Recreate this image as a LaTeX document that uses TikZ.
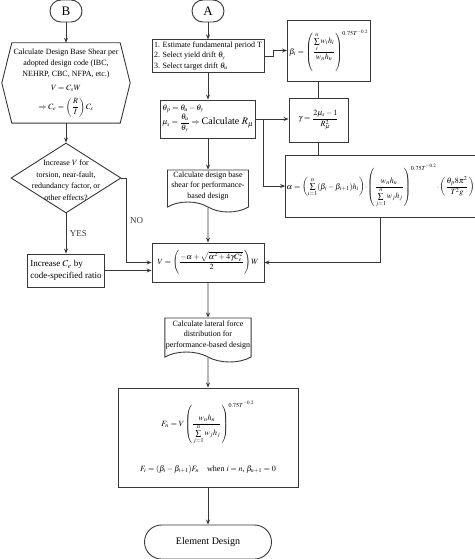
\documentclass[tikz,border=0pt]{standalone}
\usepackage{amsmath}
\usepackage{mathptmx}
\usepackage{fontspec}
\setmainfont{Liberation Serif}
\usetikzlibrary{
    positioning,
    arrows.meta,
    shapes.geometric,
    shapes.symbols
}
\definecolor{LineGray}{RGB}{55,55,55}

\begin{document}
\begin{tikzpicture}[
    x=1pt, y=-1pt,
    font=\fontsize{8}{10.5}\selectfont,
    term/.style={rectangle, rounded corners=11pt, draw=LineGray, line width=0.9pt, minimum width=32pt, minimum height=22pt, inner sep=0pt, font=\fontsize{13}{13}\selectfont},
    box/.style={rectangle, draw=LineGray, line width=0.9pt, align=center, inner sep=2pt},
    doc/.style={tape, draw=LineGray, line width=0.9pt, tape bend top=none, tape bend bottom=out and in, tape bend height=10pt, align=center, inner sep=1pt},
    decis/.style={diamond, draw=LineGray, line width=0.9pt, inner sep=0pt},
    arr/.style={-{Stealth[length=5pt,width=4pt]}, line width=0.9pt, color=LineGray},
    conn/.style={line width=0.9pt, color=LineGray},
    lbl/.style={font=\fontsize{9}{9}\selectfont},
]
\useasboundingbox (0,0) rectangle (474,559);

% code-based branch
\node[term] (B) at (66,11) {B};
\node[align=center, minimum width=108pt, minimum height=80pt, inner sep=0pt, font=\fontsize{8}{11}\selectfont] (hex) at (66,83)
    {Calculate Design Base Shear per\\adopted design code (IBC,\\NEHRP, CBC, NFPA, etc.)\\[3pt]
     $V=C_sW$\\[5pt] $\Rightarrow C_e=\left(\dfrac{R}{I}\right)C_s$};
\draw[conn] (hex.north west) -- (hex.north east) -- ([xshift=10pt]hex.east) -- (hex.south east)
    -- (hex.south west) -- ([xshift=-10pt]hex.west) -- cycle;
\node[decis, minimum width=110pt, minimum height=70pt] (dec) at (66,178) {};
\node[align=center, font=\fontsize{8}{11.5}\selectfont] (dectxt) at ([yshift=-2pt]dec.center)
    {Increase $V$ for\\torsion, near-fault,\\redundancy factor, or\\other effects?};
\node[box, align=left, minimum width=77pt, minimum height=33pt, font=\fontsize{9}{12}\selectfont] (inc) at (66,270.5)
    {Increase $C_e$ by\\code-specified ratio};

% performance-based branch
\node[term] (A) at (208,11) {A};
\node[box, align=left, minimum width=109pt, minimum height=32pt] (est) at (208,56)
    {1. Estimate fundamental period T\\2. Select yield drift $\theta_y$\\3. Select target drift $\theta_u$};
\node[box, minimum width=80pt, minimum height=61pt] (beta) at (329,50.5)
    {$\beta_i=\left(\dfrac{\sum\limits_{i}^{n} w_ih_i}{w_nh_n}\right)^{0.75T^{-0.2}}$};
\node[box, minimum width=59pt, minimum height=44pt] (gam) at (318.5,120)
    {$\gamma=\dfrac{2\mu_s-1}{R_\mu^2}$};
\node[box, align=left, minimum width=94pt, minimum height=38pt, font=\fontsize{8}{12}\selectfont] (mu) at (208,119)
    {$\theta_p=\theta_u-\theta_y$\\ $\mu_s=\dfrac{\theta_u}{\theta_y}\Rightarrow$ {\fontsize{10}{10}\selectfont Calculate $R_\mu$}};
\node[box, minimum width=184pt, minimum height=62pt, inner sep=1pt] (alp) at (380.5,186)
    {$\alpha=\left(\sum\limits_{i=1}^{n}(\beta_i-\beta_{i+1})h_i\right)\!\cdot\!
      \left(\dfrac{w_nh_n}{\sum\limits_{j=1}^{n}w_jh_j}\right)^{0.75T^{-0.2}}\!\cdot\!
      \left(\dfrac{\theta_p8\pi^2}{T^2g}\right)$};
\node[doc, minimum width=81pt, minimum height=42pt] (doc1) at (208,186)
    {Calculate design base\\shear for performance-\\based design};
\node[box, minimum width=112pt, minimum height=39pt] (vb) at (208,262.5)
    {$V=\left(\dfrac{-\alpha+\sqrt{\alpha^2+4\gamma C_e^2}}{2}\right)W$};
\node[doc, minimum width=86pt, minimum height=44pt] (doc2) at (208,335)
    {Calculate lateral force\\distribution for\\performance-based design};
\node[box, minimum width=180pt, minimum height=99pt] (fb) at (208,437.5)
    {$F_n=V\left(\dfrac{w_nh_n}{\sum\limits_{j=1}^{n}w_jh_j}\right)^{0.75T^{-0.2}}$\\[20pt]
     $F_i=(\beta_i-\beta_{i+1})F_n$\quad when $i=n$, $\beta_{n+1}=0$};
\node[term, minimum width=127pt, minimum height=34pt, rounded corners=17pt, font=\fontsize{10}{10}\selectfont] (elem) at (208,542) {Element Design};

\draw[arr] (B) -- (hex);
\draw[arr] (hex.south) -- (dec.north);
\draw[arr] (dec.south) -- node[right, lbl] {YES} (inc.north);
\draw[arr] (dec.east) -- ++(5pt,0) |- node[pos=0.25, right, lbl] {NO} (vb.west);
\draw[arr] (inc.east) -- (inc.east -| vb.west);

\draw[arr] (A) -- (est);
\draw[arr] (est.east) -- ++(9pt,0) |- (beta.west);
\draw[arr] (est) -- (mu);
\draw[conn] (gam.north |- beta.south) -- (gam.north);
\draw[conn] (gam.south) -- (gam.south |- alp.north);
\draw[arr] (mu.east) -- (mu.east -| gam.west);
\draw[arr] (mu.east) -- ++(7pt,0) |- (alp.west);
\draw[arr] (mu) -- (doc1);
\draw[arr] (doc1) -- (vb);
\draw[arr] (alp.south) |- (vb.east);
\draw[arr] (vb) -- (doc2);
\draw[arr] (doc2) -- (fb);
\draw[arr] (fb) -- (elem);
\end{tikzpicture}
\end{document}
